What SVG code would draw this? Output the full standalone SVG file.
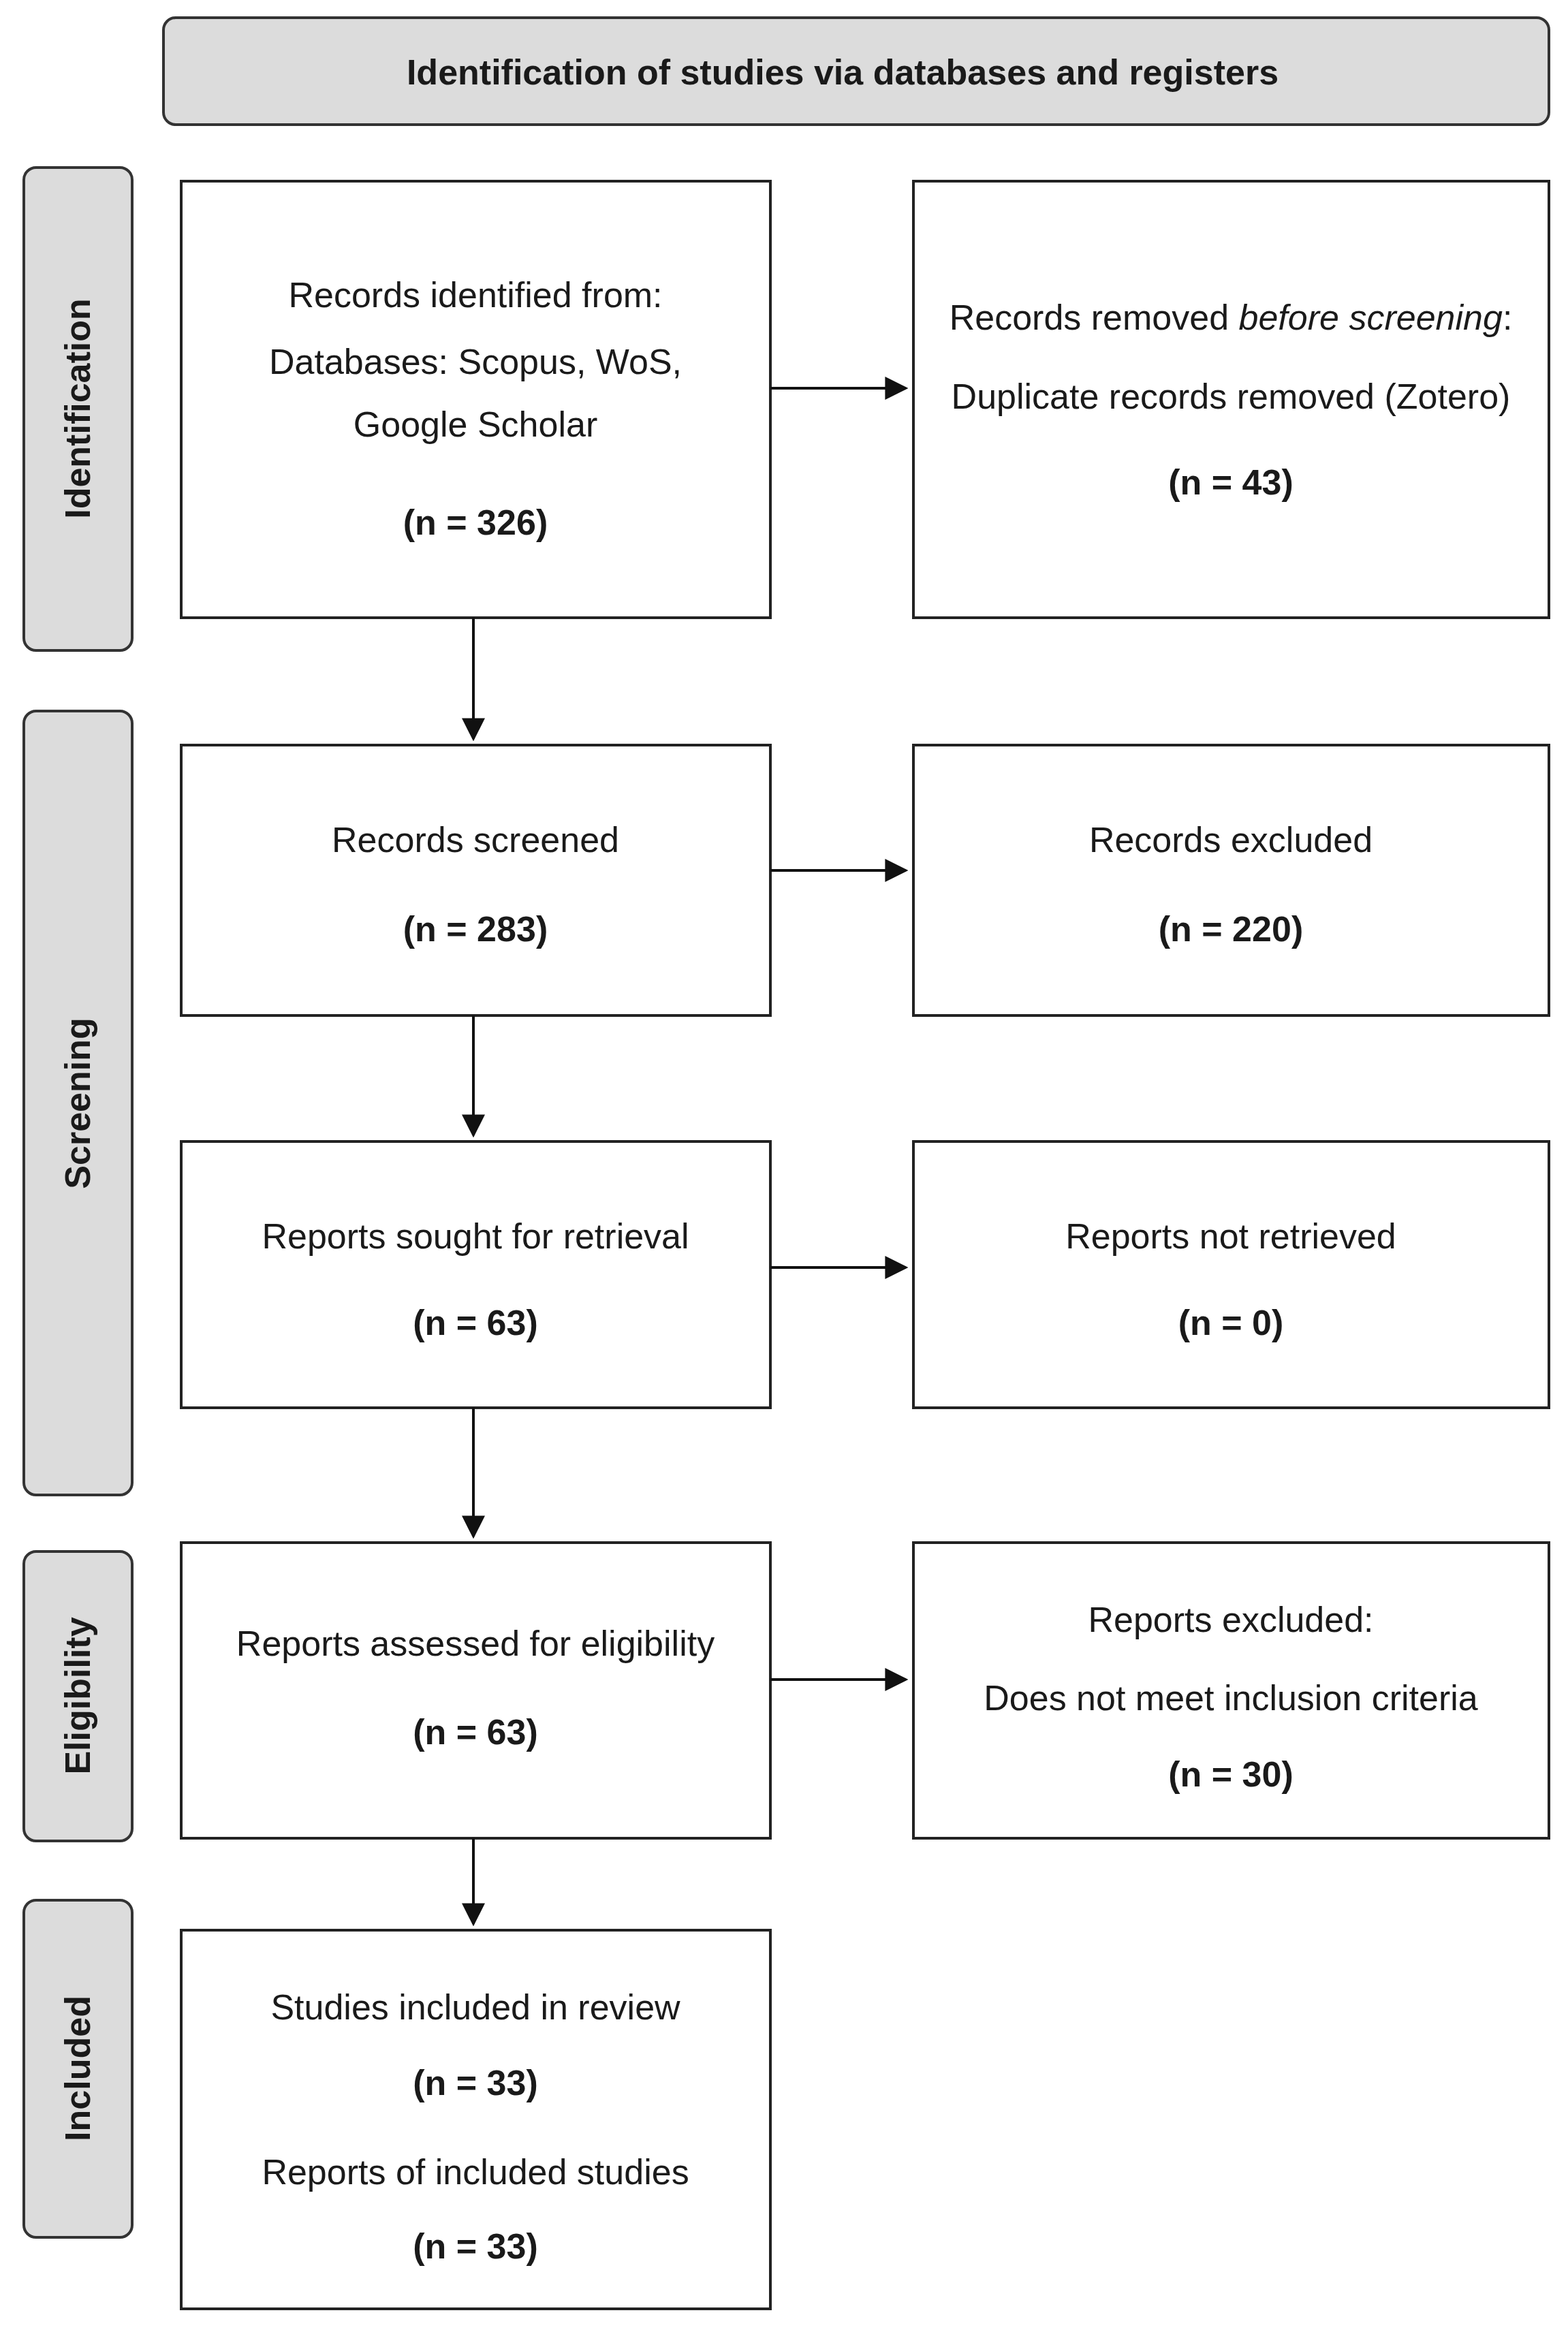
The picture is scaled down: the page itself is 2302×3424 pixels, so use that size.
<svg xmlns="http://www.w3.org/2000/svg" width="2302" height="3424" viewBox="0 0 2302 3424">
<style>
.box{fill:#fff;stroke:#222;stroke-width:4}
.side{fill:#dcdcdc;stroke:#333;stroke-width:4}
.t{font-family:"Liberation Sans",Arial,sans-serif;font-size:52px;fill:#1a1a1a;text-anchor:middle}
.n{font-weight:bold}
.s{font-family:"Liberation Sans",Arial,sans-serif;font-size:52px;font-weight:bold;fill:#1a1a1a;text-anchor:middle}
.c{stroke:#111;stroke-width:4;fill:none;marker-end:url(#a)}
</style>
<defs><marker id="a" markerWidth="10" markerHeight="10" refX="9" refY="5" orient="auto" markerUnits="userSpaceOnUse" viewBox="0 0 10 10"><path d="M0,0L10,5L0,10z" fill="#111"/></marker>
<marker id="b" viewBox="0 0 10 10" refX="9" refY="5" markerWidth="34" markerHeight="34" markerUnits="userSpaceOnUse" orient="auto"><path d="M0,0L10,5L0,10z" fill="#111"/></marker></defs>
<rect width="2302" height="3424" fill="#fff"/>
<g id="title"><rect x="240" y="26" width="2034" height="157" rx="18" class="side"/><text x="1237" y="124" class="s">Identification of studies via databases and registers</text></g>
<g id="lab-identification"><rect x="35" y="246" width="159" height="709" rx="18" class="side"/><text class="s" transform="translate(132,600) rotate(-90)">Identification</text></g>
<g id="lab-screening"><rect x="35" y="1044" width="159" height="1151" rx="18" class="side"/><text class="s" transform="translate(132,1620) rotate(-90)">Screening</text></g>
<g id="lab-eligibility"><rect x="35" y="2278" width="159" height="425" rx="18" class="side"/><text class="s" transform="translate(132,2490) rotate(-90)">Eligibility</text></g>
<g id="lab-included"><rect x="35" y="2790" width="159" height="495" rx="18" class="side"/><text class="s" transform="translate(132,3037) rotate(-90)">Included</text></g>
<g id="n1"><rect x="266" y="266" width="865" height="641" class="box"/><text class="t" x="698" y="451">Records identified from:</text><text class="t" x="698" y="549">Databases: Scopus, WoS,</text><text class="t" x="698" y="641">Google Scholar</text><text class="t n" x="698" y="785">(n = 326)</text></g>
<g id="n2"><rect x="1341" y="266" width="933" height="641" class="box"/><text class="t" x="1807" y="484">Records removed <tspan font-style="italic">before screening</tspan>:</text><text class="t" x="1807" y="600">Duplicate records removed (Zotero)</text><text class="t n" x="1807" y="726">(n = 43)</text></g>
<g id="n3"><rect x="266" y="1094" width="865" height="397" class="box"/><text class="t" x="698" y="1251">Records screened</text><text class="t n" x="698" y="1382">(n = 283)</text></g>
<g id="n4"><rect x="1341" y="1094" width="933" height="397" class="box"/><text class="t" x="1807" y="1251">Records excluded</text><text class="t n" x="1807" y="1382">(n = 220)</text></g>
<g id="n5"><rect x="266" y="1676" width="865" height="391" class="box"/><text class="t" x="698" y="1833">Reports sought for retrieval</text><text class="t n" x="698" y="1960">(n = 63)</text></g>
<g id="n6"><rect x="1341" y="1676" width="933" height="391" class="box"/><text class="t" x="1807" y="1833">Reports not retrieved</text><text class="t n" x="1807" y="1960">(n = 0)</text></g>
<g id="n7"><rect x="266" y="2265" width="865" height="434" class="box"/><text class="t" x="698" y="2431">Reports assessed for eligibility</text><text class="t n" x="698" y="2561">(n = 63)</text></g>
<g id="n8"><rect x="1341" y="2265" width="933" height="434" class="box"/><text class="t" x="1807" y="2396">Reports excluded:</text><text class="t" x="1807" y="2511">Does not meet inclusion criteria</text><text class="t n" x="1807" y="2623">(n = 30)</text></g>
<g id="n9"><rect x="266" y="2834" width="865" height="556" class="box"/><text class="t" x="698" y="2965">Studies included in review</text><text class="t n" x="698" y="3076">(n = 33)</text><text class="t" x="698" y="3207">Reports of included studies</text><text class="t n" x="698" y="3316">(n = 33)</text></g>
<g id="connectors" stroke="#111" stroke-width="4" fill="none">
<path d="M1131,570H1330" marker-end="url(#b)"/>
<path d="M1131,1278H1330" marker-end="url(#b)"/>
<path d="M1131,1861H1330" marker-end="url(#b)"/>
<path d="M1131,2466H1330" marker-end="url(#b)"/>
<path d="M695,907V1085" marker-end="url(#b)"/>
<path d="M695,1491V1667" marker-end="url(#b)"/>
<path d="M695,2067V2256" marker-end="url(#b)"/>
<path d="M695,2699V2825" marker-end="url(#b)"/>
</g>
</svg>
